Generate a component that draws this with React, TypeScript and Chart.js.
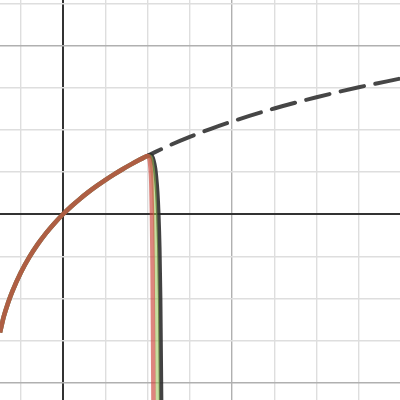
import React, { useEffect, useRef } from 'react';
import { Chart, registerables } from 'chart.js';

Chart.register(...registerables);

// shared part of the curves, y = ln(1 + x)
const baseX = [-0.745, -0.7, -0.65, -0.6, -0.5, -0.4, -0.3, -0.2, -0.1, 0, 0.1, 0.2, 0.3, 0.4, 0.5, 0.6, 0.7, 0.8, 0.9, 0.95];
const baseY = [-1.4, -1.21, -1.05, -0.916, -0.693, -0.511, -0.357, -0.223, -0.105, 0, 0.095, 0.182, 0.262, 0.336, 0.405, 0.47, 0.531, 0.588, 0.642, 0.668];

// where each curve leaves the log curve and falls
const redX = [1.0, 1.02, 1.035, 1.045, 1.053, 1.06, 1.065, 1.072];
const redY = [0.69, 0.67, 0.56, 0.38, 0, -0.6, -1.3, -2.4];

const greenX = [1.0, 1.03, 1.05, 1.07, 1.08, 1.09, 1.1, 1.11, 1.12];
const greenY = [0.688, 0.68, 0.61, 0.44, 0.26, 0, -0.45, -1.1, -2.3];

const darkX = [1.0, 1.03, 1.05, 1.07, 1.09, 1.1, 1.115, 1.128, 1.14, 1.15, 1.162];
const darkY = [0.69, 0.7, 0.69, 0.64, 0.54, 0.45, 0.27, 0, -0.4, -1.0, -2.3];

// dashed continuation
const dashX = [1.0, 1.25, 1.5, 1.75, 2.0, 2.5, 3.0, 3.5, 4.0];
const dashY = [0.693, 0.811, 0.916, 1.012, 1.099, 1.253, 1.386, 1.504, 1.609];

const xGrid = [-0.5, 0, 0.5, 1, 1.5, 2, 2.5, 3, 3.5];
const yGrid = [-2, -1.5, -1, -0.5, 0, 0.5, 1, 1.5, 2, 2.5];

const pts = (xs: number[], ys: number[]) => xs.map((x, i) => ({ x, y: ys[i] }));

const gridColor = (v: number) => {
	if (Math.abs(v) < 1e-9) return '#333333';
	if (Math.abs(v % 2) < 1e-9) return '#b0b0b0';
	return '#dedede';
};
const gridWidth = (v: number) => (Math.abs(v) < 1e-9 ? 2 : 1.4);

export default function App() {
	const canvasRef = useRef<HTMLCanvasElement>(null);
	const chartRef = useRef<Chart | null>(null);

	useEffect(() => {
		if (!canvasRef.current) return;
		if (chartRef.current) chartRef.current.destroy();

		const line = (label: string, xs: number[], ys: number[], color: string, extra = {}) => ({
			label,
			data: pts(xs, ys),
			borderColor: color,
			borderWidth: 4.5,
			pointRadius: 0,
			cubicInterpolationMode: 'monotone' as const,
			fill: false,
			...extra,
		});

		chartRef.current = new Chart(canvasRef.current, {
			type: 'line',
			data: {
				datasets: [
					line('red', [...baseX, ...redX], [...baseY, ...redY], 'rgba(205, 75, 65, 0.68)'),
					line('green', [...baseX, ...greenX], [...baseY, ...greenY], 'rgba(150, 195, 80, 0.55)'),
					line('dark', [...baseX, ...darkX], [...baseY, ...darkY], 'rgba(45, 45, 45, 0.9)'),
					line('dashed', dashX, dashY, 'rgba(60, 60, 60, 0.95)', {
						borderDash: [24, 11.5],
						borderDashOffset: 9,
						borderCapStyle: 'round',
						borderWidth: 4,
					}),
				],
			},
			options: {
				responsive: false,
				maintainAspectRatio: false,
				animation: false,
				layout: { padding: 0 },
				plugins: {
					legend: { display: false },
					tooltip: { enabled: false },
				},
				scales: {
					x: {
						type: 'linear',
						min: -0.745,
						max: 3.988,
						afterBuildTicks: (scale) => {
							scale.ticks = xGrid.map((value) => ({ value }));
						},
						ticks: { display: false },
						border: { display: false },
						grid: {
							drawTicks: false,
							color: (ctx) => gridColor(ctx.tick.value),
							lineWidth: (ctx) => gridWidth(ctx.tick.value),
						},
					},
					y: {
						type: 'linear',
						min: -2.2,
						max: 2.538,
						afterBuildTicks: (scale) => {
							scale.ticks = yGrid.map((value) => ({ value }));
						},
						ticks: { display: false },
						border: { display: false },
						grid: {
							drawTicks: false,
							color: (ctx) => gridColor(ctx.tick.value),
							lineWidth: (ctx) => gridWidth(ctx.tick.value),
						},
					},
				},
			},
		});

		return () => {
			if (chartRef.current) {
				chartRef.current.destroy();
				chartRef.current = null;
			}
		};
	}, []);

	return (
		<div style={{ position: 'absolute', left: 0, top: 0, width: 400, height: 400, background: '#fff' }}>
			<canvas ref={canvasRef} width={400} height={400} />
		</div>
	);
}
